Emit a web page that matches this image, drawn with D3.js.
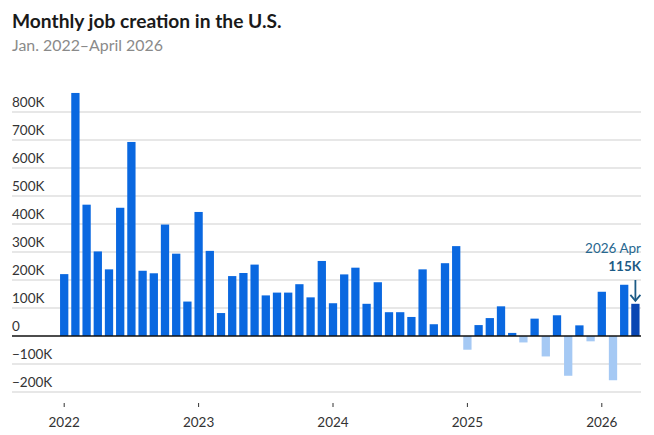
<!DOCTYPE html>
<html><head><meta charset="utf-8">
<script src="https://cdn.jsdelivr.net/npm/d3@7"></script>
<style>
html,body{margin:0;padding:0;background:#fff;}
svg{display:block;font-family:Lato, "Open Sans", sans-serif;}
</style></head>
<body>
<svg id="chart" width="654" height="435"></svg>
<script>
// Months Jan 2022 – Apr 2026
const years = [2022, 2023, 2024, 2025, 2026];
const monthNames = ["Jan","Feb","Mar","Apr","May","Jun","Jul","Aug","Sep","Oct","Nov","Dec"];
// job change in thousands
const values2022 = [221, 868, 469, 302, 238, 458, 693, 233, 224, 398, 294, 123];
const values2023 = [443, 304, 82, 214, 225, 255, 145, 155, 155, 185, 138, 268];
const values2024 = [117, 220, 244, 115, 192, 85, 85, 68, 238, 42, 260, 321];
const values2025 = [-49, 39, 64, 106, 11, -23, 62, -73, 74, -142, 38, -19];
const values2026 = [158, -158, 183, 115];
const yTicks = [-200, -100, 0, 100, 200, 300, 400, 500, 600, 700, 800];
const xTickYears = [2022, 2023, 2024, 2025, 2026];
const annotationLabel = "2026 Apr";
const annotationValue = "115K";

const allValues = [values2022, values2023, values2024, values2025, values2026];
const data = [];
allValues.forEach((arr, yi) => arr.forEach((v, mi) => data.push({year: years[yi], month: mi, key: years[yi] + "-" + mi, value: v})));

const svg = d3.select("#chart");
const x = d3.scaleBand().domain(data.map(d => d.key)).range([58.6, 641]).paddingInner(0.26).paddingOuter(0.13);
const y = d3.scaleLinear().domain([-200, 800]).range([392, 112]);
const gridLeft = 12, gridRight = 641;

// title
svg.append("text").attr("x", 12).attr("y", 28).attr("font-size", 19.2).attr("font-weight", 700).attr("fill", "#1a1a1a").text("Monthly job creation in the U.S.");
svg.append("text").attr("x", 12).attr("y", 51).attr("font-size", 15.9).attr("fill", "#8a8a8a").text("Jan. 2022\u2013April 2026");

// gridlines
svg.append("g").selectAll("line").data(yTicks.filter(t => t !== 0)).join("line")
  .attr("x1", gridLeft).attr("x2", gridRight)
  .attr("y1", d => y(d)).attr("y2", d => y(d))
  .attr("stroke", "#cfcfcf").attr("stroke-width", 1);

// y labels
const fmt = v => v === 0 ? "0" : (v < 0 ? "\u2212" : "") + Math.abs(v) + "K";
svg.append("g").selectAll("text").data(yTicks).join("text")
  .attr("x", gridLeft).attr("y", d => y(d) - 5)
  .attr("font-size", 13.5).attr("fill", "#333").text(fmt);

// bars
const last = data[data.length - 1];
svg.append("g").selectAll("rect").data(data).join("rect")
  .attr("x", d => x(d.key)).attr("width", x.bandwidth())
  .attr("y", d => y(Math.max(0, d.value)))
  .attr("height", d => Math.abs(y(d.value) - y(0)))
  .attr("fill", d => d === last ? "#0a47b3" : (d.value < 0 ? "#a5c9f4" : "#0a68e0"));

// zero line
svg.append("line").attr("x1", gridLeft).attr("x2", gridRight).attr("y1", y(0)).attr("y2", y(0))
  .attr("stroke", "#111").attr("stroke-width", 1.5);

// x ticks
const jan = data.filter(d => d.month === 0 && xTickYears.includes(d.year));
const cx = d => x(d.key) + x.bandwidth() / 2;
svg.append("g").selectAll("line").data(jan).join("line")
  .attr("x1", cx).attr("x2", cx).attr("y1", 403).attr("y2", 407)
  .attr("stroke", "#333").attr("stroke-width", 1);
svg.append("g").selectAll("text").data(jan).join("text")
  .attr("x", cx).attr("y", 427).attr("text-anchor", "middle")
  .attr("font-size", 13.5).attr("fill", "#333").text(d => d.year);

// annotation
const ax = cx(last);
svg.append("text").attr("x", 641).attr("y", 253).attr("text-anchor", "end")
  .attr("font-size", 13.5).attr("fill", "#27678f").text(annotationLabel);
svg.append("text").attr("x", 641).attr("y", 270.5).attr("text-anchor", "end")
  .attr("font-size", 13.5).attr("font-weight", 700).attr("fill", "#1c5a85").text(annotationValue);
const arrowTop = 280, arrowBottom = y(last.value) - 3;
svg.append("line").attr("x1", ax).attr("x2", ax).attr("y1", arrowTop).attr("y2", arrowBottom)
  .attr("stroke", "#1c5a85").attr("stroke-width", 1.8);
svg.append("path").attr("d", `M${ax - 5},${arrowBottom - 6} L${ax},${arrowBottom} L${ax + 5},${arrowBottom - 6}`)
  .attr("fill", "none").attr("stroke", "#1c5a85").attr("stroke-width", 1.8);
</script>
</body></html>
